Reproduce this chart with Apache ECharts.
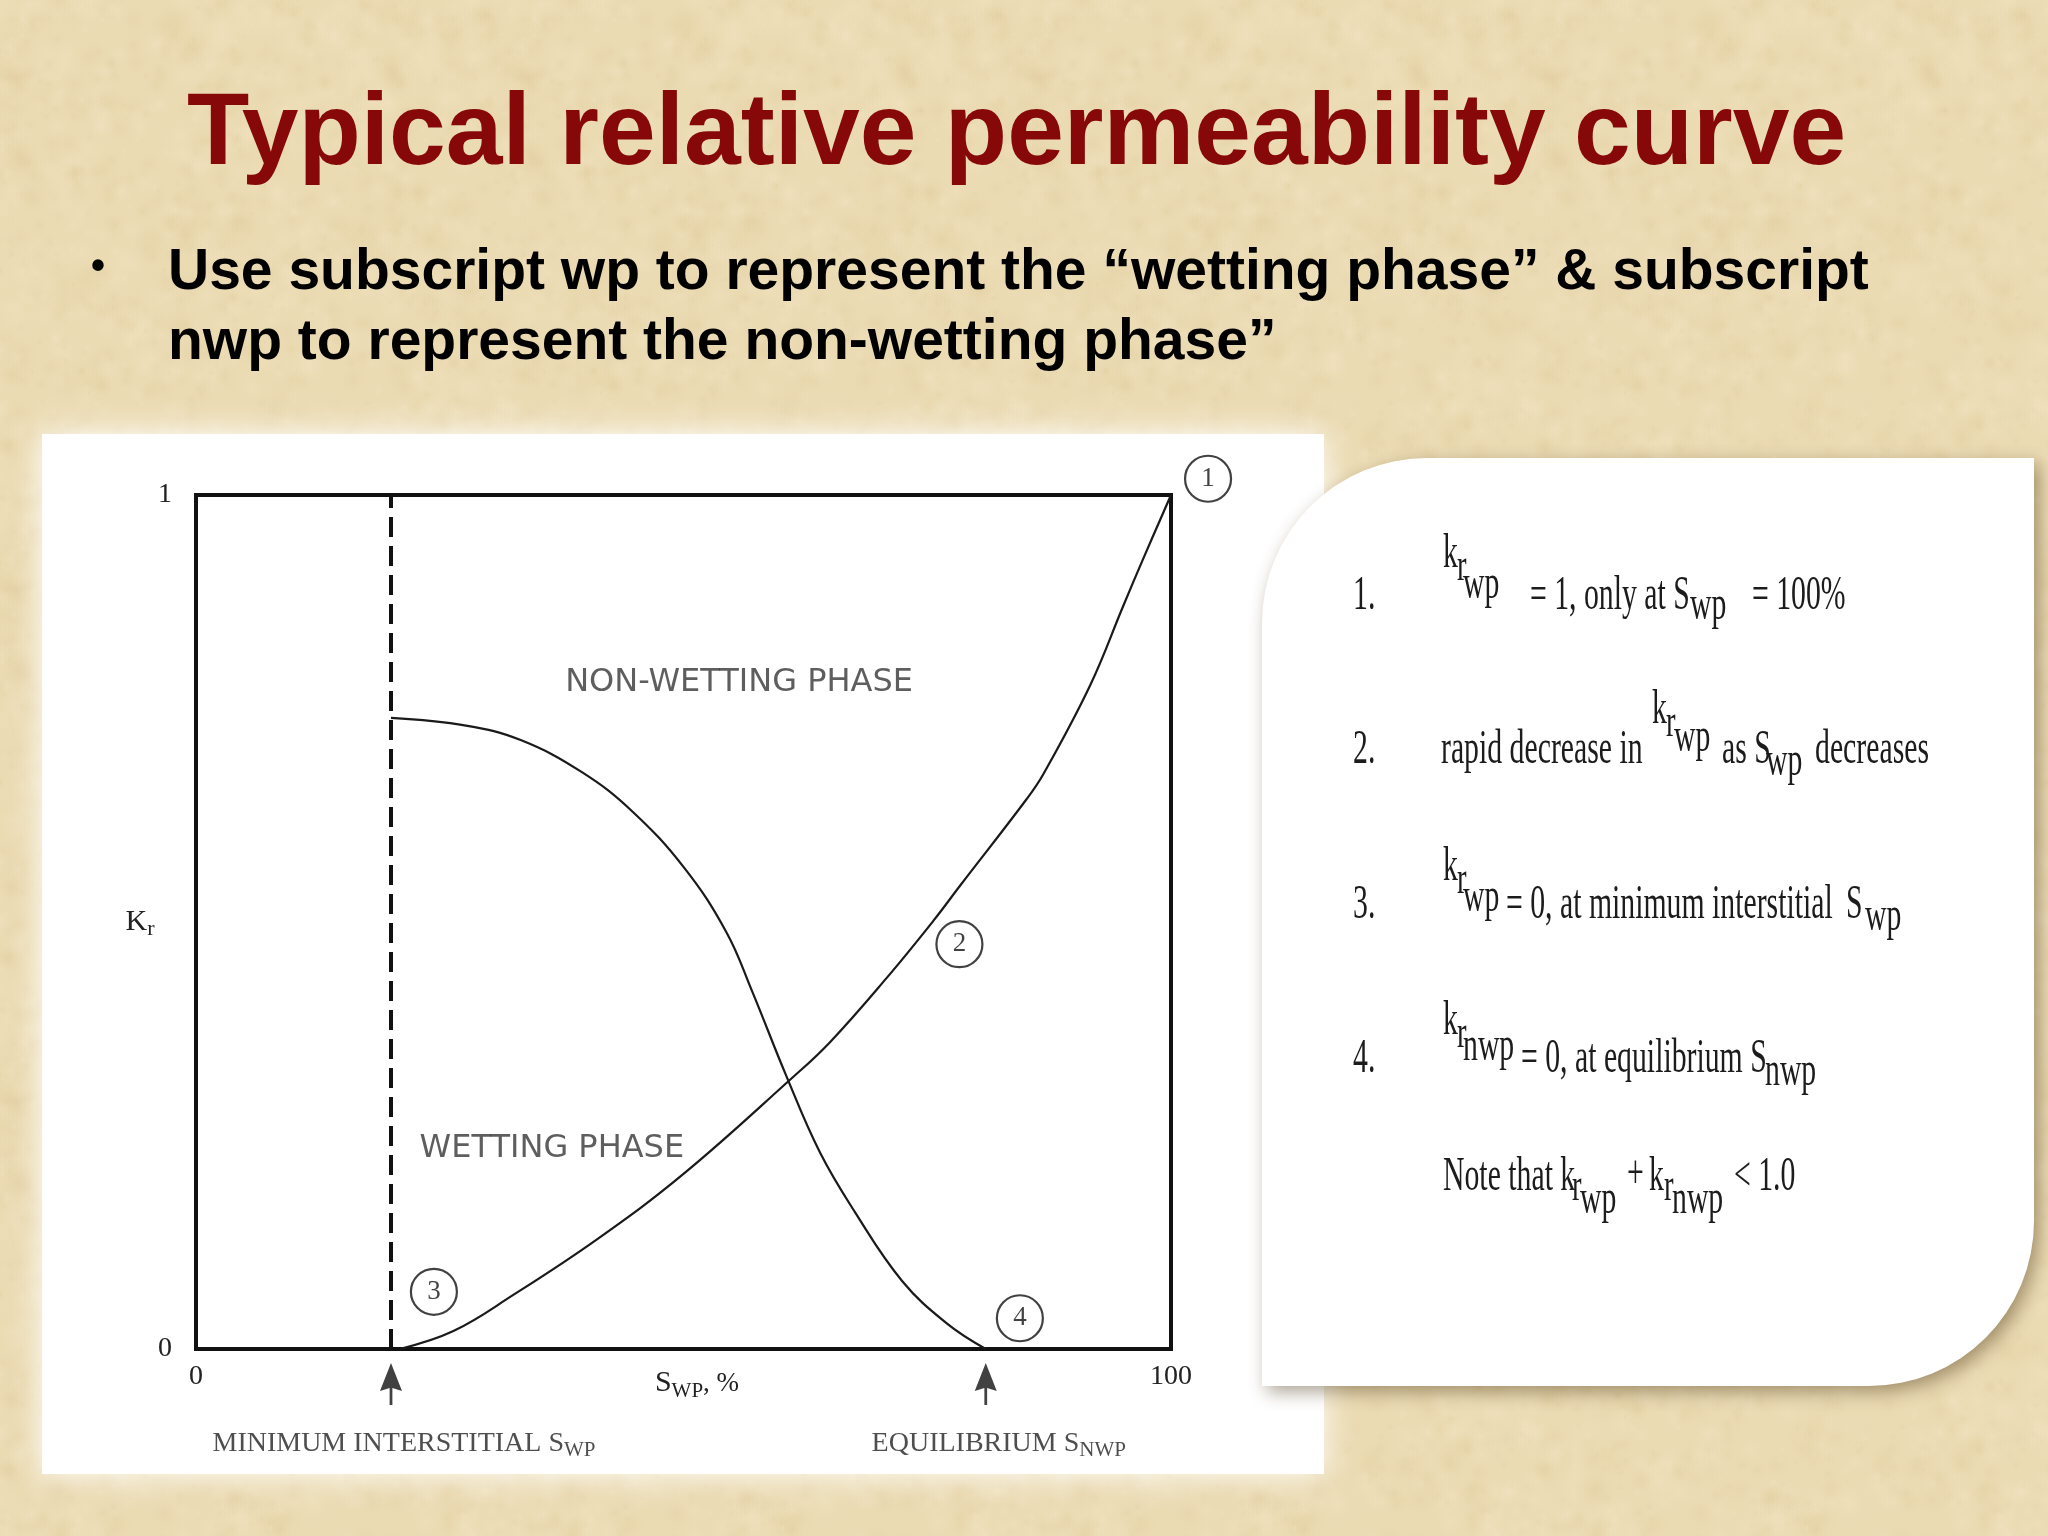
<!DOCTYPE html>
<html>
<head>
<meta charset="utf-8">
<script src="https://cdn.jsdelivr.net/npm/echarts@6/dist/echarts.min.js"></script>
<style>
html,body{margin:0;padding:0;background:#eadab2;}
#c{width:2048px;height:1536px;}
</style>
</head>
<body>
<div id="c"></div>
<script>
// ---------- data ----------
const swNonWetting = [20, 27.7, 33.3, 39.5, 44.7, 50.1, 54.4, 57.0, 60.5, 64.0, 67.6, 72.4, 77.0, 81.0];
const krNonWetting = [0.739, 0.730, 0.713, 0.676, 0.630, 0.563, 0.488, 0.420, 0.321, 0.230, 0.160, 0.080, 0.030, 0];
const swWetting = [20.9, 26.4, 32.5, 41.2, 50.0, 61.1, 65.0, 70.8, 75.6, 78.4, 85.2, 86.9, 91.7, 95.1, 97.1, 100];
const krWetting = [0, 0.021, 0.063, 0.129, 0.205, 0.317, 0.359, 0.434, 0.501, 0.543, 0.644, 0.673, 0.777, 0.870, 0.924, 1];
const swMinInterstitial = 20;
const swEquilibrium = 81;
const xTicks = [0, 100];
const yTicks = [0, 1];
const pointNumbers = ['1', '2', '3', '4'];
const pointSw = [103.8, 78.3, 24.4, 84.5];
const pointKr = [1.019, 0.474, 0.067, 0.036];
const phaseLabels = ['NON-WETTING PHASE', 'WETTING PHASE'];
const phaseSw = [55.7, 36.5];
const phaseKr = [0.780, 0.234];
const arrowLabels = ['{a|MINIMUM INTERSTITIAL S}{b|WP}', '{a|EQUILIBRIUM S}{b|NWP}'];
const arrowKr = -0.041;

// ---------- panel text (layout) ----------
const SX = 0.62;
const SERIF = '"Liberation Serif", "Times New Roman", serif';
const M = 48, R = 46;
const panelText = [
  // [x, baseline, size, text]
  [1353, 613, M, '1.'],
  [1443, 571, M, 'k'], [1457, 584, R, 'r'], [1463, 602, M, 'wp'],
  [1530, 613, M, '= 1, only at S'], [1690, 623, M, 'wp'], [1752, 613, M, '= 100%'],

  [1353, 767, M, '2.'],
  [1441, 767, M, 'rapid decrease in'],
  [1652, 727, M, 'k'], [1666, 740, R, 'r'], [1674, 755, M, 'wp'],
  [1722, 767, M, 'as S'], [1766, 779, M, 'wp'], [1815, 767, M, 'decreases'],

  [1353, 922, M, '3.'],
  [1443, 884, M, 'k'], [1457, 897, R, 'r'], [1463, 915, M, 'wp'],
  [1506, 922, M, '= 0, at minimum interstitial'], [1846, 922, M, 'S'], [1865, 934, M, 'wp'],

  [1353, 1076, M, '4.'],
  [1443, 1038, M, 'k'], [1457, 1051, R, 'r'], [1463, 1064, M, 'nwp'],
  [1521, 1076, M, '= 0, at equilibrium S'], [1765, 1089, M, 'nwp'],

  [1443, 1194, M, 'Note that k'], [1572, 1204, R, 'r'], [1580, 1217, M, 'wp'],
  [1627, 1192, M, '+'], [1649, 1194, M, 'k'], [1664, 1204, R, 'r'], [1672, 1217, M, 'nwp'],
  [1734, 1194, M, '< 1.0']
];

function textEl(p) {
  return {
    type: 'text', x: p[0], y: p[1] - 0.34 * p[2], scaleX: SX, z: 6,
    style: { text: p[3], font: p[2] + 'px ' + SERIF, fill: '#1c1c1c', align: 'left', verticalAlign: 'middle' }
  };
}

// decorative parchment texture (deterministic)
function parchment() {
  const cv = document.createElement('canvas');
  cv.width = 512; cv.height = 512;
  const g = cv.getContext('2d');
  g.fillStyle = '#ebdbb3';
  g.fillRect(0, 0, 512, 512);
  let seed = 24680;
  const rnd = () => { seed = (seed * 1103515245 + 12345) % 2147483648; return seed / 2147483648; };
  for (let i = 0; i < 1400; i++) {
    const x = rnd() * 512, y = rnd() * 512, r = 3 + rnd() * 22;
    const dark = rnd() < 0.5;
    for (let dx = -512; dx <= 512; dx += 512) {
      for (let dy = -512; dy <= 512; dy += 512) {
        const cx = x + dx, cy = y + dy;
        if (cx + r < 0 || cx - r > 512 || cy + r < 0 || cy - r > 512) continue;
        const grd = g.createRadialGradient(cx, cy, 0, cx, cy, r);
        grd.addColorStop(0, dark ? 'rgba(196,162,98,0.08)' : 'rgba(252,244,222,0.12)');
        grd.addColorStop(1, 'rgba(235,219,179,0)');
        g.fillStyle = grd;
        g.fillRect(cx - r, cy - r, 2 * r, 2 * r);
      }
    }
  }
  return cv;
}

const chart = echarts.init(document.getElementById('c'), null, { width: 2048, height: 1536 });

const option = {
  backgroundColor: { image: parchment(), repeat: 'repeat' },
  animation: false,
  title: {
    text: 'Typical relative permeability curve',
    left: 182, top: 80,
    textStyle: { fontFamily: '"Liberation Sans", Arial, sans-serif', fontWeight: 'bold', fontSize: 102, color: '#860808' }
  },
  grid: { left: 196, top: 495, width: 975, height: 854, show: true, borderColor: '#111', borderWidth: 4, backgroundColor: 'transparent', z: 1 },
  xAxis: {
    type: 'value', min: 0, max: 100, interval: 100,
    axisLine: { show: false }, axisTick: { show: false }, splitLine: { show: false },
    axisLabel: {
      margin: 14, fontFamily: SERIF, fontSize: 28, color: '#222',
      formatter: v => xTicks.indexOf(v) >= 0 ? String(v) : ''
    },
    name: '{s|S}{w|WP}{c|, %}', nameLocation: 'middle', nameGap: 16, nameMoveOverlap: false,
    nameTextStyle: {
      padding: [0, 0, 0, 27],
      rich: {
        s: { fontFamily: SERIF, fontSize: 30, color: '#222' },
        w: { fontFamily: SERIF, fontSize: 21, color: '#222', padding: [16, 0, 0, 0] },
        c: { fontFamily: SERIF, fontSize: 27, color: '#222' }
      }
    }
  },
  yAxis: {
    type: 'value', min: 0, max: 1, interval: 1,
    axisLine: { show: false }, axisTick: { show: false }, splitLine: { show: false },
    axisLabel: {
      margin: 24, fontFamily: SERIF, fontSize: 28, color: '#222',
      formatter: v => yTicks.indexOf(v) >= 0 ? String(v) : ''
    },
    name: '{k|K}{r|r}', nameLocation: 'middle', nameGap: 56, nameRotate: 0, nameMoveOverlap: false,
    nameTextStyle: {
      align: 'center', verticalAlign: 'middle',
      rich: {
        k: { fontFamily: SERIF, fontSize: 30, color: '#222' },
        r: { fontFamily: SERIF, fontSize: 22, color: '#222', padding: [14, 0, 0, 0] }
      }
    }
  },
  graphic: [
    { type: 'rect', z: -6, shape: { x: 42, y: 434, width: 1282, height: 1040 },
      style: { fill: '#ffffff', shadowBlur: 30, shadowColor: '#ffffff' } },
    { type: 'rect', z: -5, shape: { x: 1262, y: 458, width: 772, height: 928, r: [165, 0, 165, 0] },
      style: { fill: '#ffffff', shadowBlur: 18, shadowColor: 'rgba(70,50,20,0.45)', shadowOffsetX: 5, shadowOffsetY: 6 } },
    { type: 'text', x: 98, y: 268, z: 6,
      style: { text: '\u2022', font: 'bold 40px "Liberation Sans", Arial, sans-serif', fill: '#000', align: 'center', verticalAlign: 'middle' } },
    { type: 'text', x: 168, y: 238, z: 6,
      style: { text: 'Use subscript wp to represent the \u201cwetting phase\u201d & subscript\nnwp to represent the non-wetting phase\u201d',
        font: 'bold 57px "Liberation Sans", Arial, sans-serif', lineHeight: 70, fill: '#000', align: 'left', verticalAlign: 'top' } }
  ].concat(panelText.map(textEl)),
  series: [
    {
      name: 'Non-wetting phase', type: 'line', smooth: 0.4, symbol: 'none', z: 3,
      lineStyle: { color: '#1a1a1a', width: 2.2 },
      data: swNonWetting.map((x, i) => [x, krNonWetting[i]])
    },
    {
      name: 'Wetting phase', type: 'line', smooth: 0.4, symbol: 'none', z: 3,
      lineStyle: { color: '#1a1a1a', width: 2.2 },
      data: swWetting.map((x, i) => [x, krWetting[i]])
    },
    {
      name: 'Minimum interstitial', type: 'line', symbol: 'none', z: 3,
      lineStyle: { color: '#111', width: 4, type: [20, 9] },
      data: [[swMinInterstitial, 0], [swMinInterstitial, 1]]
    },
    {
      name: 'Arrows', type: 'scatter', clip: false, z: 4,
      symbol: 'path://M12,0 L24,28 L13.5,25 L13.5,42 L10.5,42 L10.5,25 L0,28 Z',
      symbolSize: [22, 42],
      itemStyle: { color: '#111' },
      label: {
        show: true, position: 'bottom', distance: 21, offset: [13, 0],
        formatter: p => arrowLabels[p.dataIndex],
        rich: {
          a: { fontFamily: SERIF, fontSize: 28, color: '#222' },
          b: { fontFamily: SERIF, fontSize: 21, color: '#222', padding: [14, 0, 0, 0] }
        }
      },
      data: [[swMinInterstitial, arrowKr], [swEquilibrium, arrowKr]]
    },
    {
      name: 'Points', type: 'scatter', clip: false, z: 5,
      symbol: 'circle', symbolSize: 46,
      itemStyle: { color: '#fff', borderColor: '#111', borderWidth: 2.2 },
      label: { show: true, position: 'inside', fontFamily: SERIF, fontSize: 27, color: '#111',
        formatter: p => pointNumbers[p.dataIndex] },
      data: pointSw.map((x, i) => [x, pointKr[i]])
    },
    {
      name: 'Phase labels', type: 'scatter', clip: false, z: 5,
      symbolSize: 1, itemStyle: { color: 'rgba(0,0,0,0)' },
      label: { show: true, position: 'inside', fontFamily: '"DejaVu Sans", Verdana, sans-serif', fontSize: 32, color: '#363636',
        formatter: p => phaseLabels[p.dataIndex] },
      data: phaseSw.map((x, i) => [x, phaseKr[i]])
    }
  ]
};
chart.setOption(option);
</script>
</body>
</html>
